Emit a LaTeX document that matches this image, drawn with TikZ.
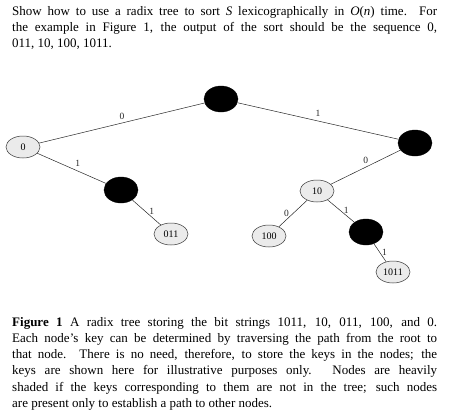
\documentclass[tikz,border=0pt]{standalone}
\usepackage{fontspec}
\setmainfont{Liberation Serif}
\usetikzlibrary{shapes.geometric}
\begin{document}
\begin{tikzpicture}[x=1pt,y=1pt,
  keynode/.style={ellipse,draw=black!80,line width=0.5pt,fill=black!8,minimum width=34pt,minimum height=22pt,inner sep=0pt,font=\fontsize{10}{12}\selectfont},
  blacknode/.style={ellipse,draw=black,fill=black,minimum width=34pt,minimum height=26pt,inner sep=0pt},
  edge/.style={line width=0.5pt,black!85},
  bit/.style={font=\fontsize{9.5}{11}\selectfont,inner sep=1pt},
  para/.style={text width=425pt,align=justify,inner sep=0pt,font=\fontsize{13}{16.2}\selectfont}]
\useasboundingbox (0,0) rectangle (452,416);
% top text
\node[para,anchor=north west] (q) at (12,410) {Show how to use a radix tree to sort \textit{S} lexicographically in \textit{O}(\textit{n}) time. For\linebreak the example in Figure 1, the output of the sort should be the sequence 0,\linebreak 011, 10, 100, 1011.};
% tree
\node[blacknode] (r) at (221,317) {};
\node[keynode] (n0) at (23,269) {0};
\node[blacknode] (b1) at (121,226) {};
\node[keynode] (n011) at (171,182) {011};
\node[blacknode] (b2) at (415,273) {};
\node[keynode] (n10) at (317,225) {10};
\node[keynode] (n100) at (269,180) {100};
\node[blacknode] (b3) at (366,184) {};
\node[keynode] (n1011) at (393,144) {1011};
\draw[edge] (r) -- node[bit,pos=0.5,above=2pt] (l1) {0} (n0);
\draw[edge] (n0) -- node[bit,pos=0.52,above right=1pt] (l2) {1} (b1);
\draw[edge] (b1) -- node[bit,pos=0.45,right=3pt] (l3) {1} (n011);
\draw[edge] (r) -- node[bit,pos=0.5,above=3pt] (l4) {1} (b2);
\draw[edge] (b2) -- node[bit,pos=0.5,above=2pt] (l5) {0} (n10);
\draw[edge] (n10) -- node[bit,pos=0.5,left=3pt] (l6) {0} (n100);
\draw[edge] (n10) -- node[bit,pos=0.45,right=3pt] (l7) {1} (b3);
\draw[edge] (b3) -- node[bit,pos=0.5,right=1pt] (l8) {1} (n1011);
% caption
\node[para,anchor=north west] (cap) at (12,99) {\textbf{Figure 1} A radix tree storing the bit strings 1011, 10, 011, 100, and 0.\linebreak Each node's key can be determined by traversing the path from the root to\linebreak that node. There is no need, therefore, to store the keys in the nodes; the\linebreak keys are shown here for illustrative purposes only. Nodes are heavily\linebreak shaded if the keys corresponding to them are not in the tree; such nodes\linebreak are present only to establish a path to other nodes.};
\end{tikzpicture}
\end{document}
